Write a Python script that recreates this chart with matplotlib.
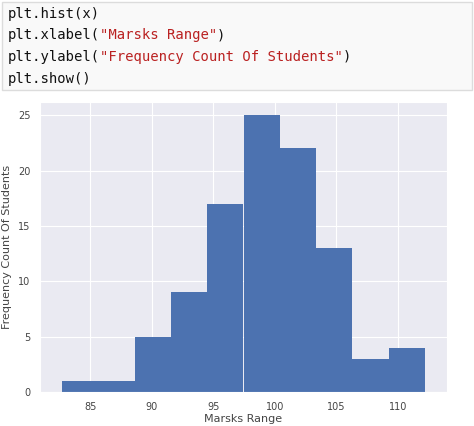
import matplotlib
matplotlib.use('Agg')
import matplotlib.pyplot as plt
import numpy as np
import seaborn as sns

sns.set_style('darkgrid')

# histogram
bin_edges = np.linspace(82.7, 112.2, 11)
counts = [1, 1, 5, 9, 17, 25, 22, 13, 3, 4]
xticks = [85, 90, 95, 100, 105, 110]
yticks = [0, 5, 10, 15, 20, 25]

code_lines = [
    ('plt.hist(x)', '', ''),
    ('plt.xlabel(', '"Marsks Range"', ')'),
    ('plt.ylabel(', '"Frequency Count Of Students"', ')'),
    ('plt.show()', '', ''),
]

fig = plt.figure(figsize=(4.74, 4.26), dpi=100)
fig.patch.set_facecolor('white')

# notebook code cell
cell = plt.Rectangle((2 / 474, 1 - 90 / 426), 470 / 474, 88 / 426, transform=fig.transFigure,
                     facecolor='#f9f9f9', edgecolor='#dcdcdc', lw=1)
fig.patches.append(cell)
fs = 10
cw = 0.602 * fs * 100 / 72  # char width in px
for i, (a, s, b) in enumerate(code_lines):
    y = 1 - (14 + i * 21.5) / 426
    x0 = 8
    fig.text(x0 / 474, y, a, family='DejaVu Sans Mono', fontsize=fs, va='center', color='#111111')
    if s:
        fig.text((x0 + cw * len(a)) / 474, y, s, family='DejaVu Sans Mono', fontsize=fs,
                 va='center', color='#ba2121')
        fig.text((x0 + cw * (len(a) + len(s))) / 474, y, b, family='DejaVu Sans Mono',
                 fontsize=fs, va='center', color='#111111')

ax = fig.add_axes([40 / 474, 1 - 392 / 426, 407 / 474, 290 / 426])
centers = (bin_edges[:-1] + bin_edges[1:]) / 2
ax.hist(centers, bins=bin_edges, weights=counts, color='#4c72b0', linewidth=0)
ax.set_xlim(80.9, 114.0)
ax.set_ylim(0, 26.2)
ax.set_xticks(xticks)
ax.set_yticks(yticks)
ax.tick_params(labelsize=7, colors='#444444')
ax.set_xlabel('Marsks Range', fontsize=8, color='#444444', labelpad=2)
ax.set_ylabel('Frequency Count Of Students', fontsize=8, color='#444444', labelpad=4)

fig.savefig('out.png', dpi=100)
